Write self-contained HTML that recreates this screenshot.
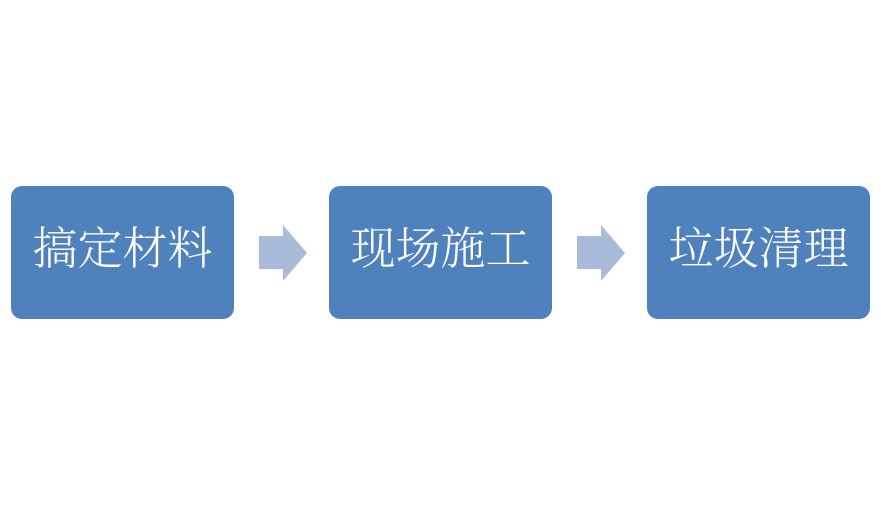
<!DOCTYPE html>
<html>
<head>
<meta charset="utf-8">
<style>
  html, body { margin:0; padding:0; background:#ffffff; }
  body { width:881px; height:505px; position:relative; overflow:hidden; }
  .box {
    position:absolute; top:186px; width:223px; height:133px;
    background:#4F81BD; border-radius:11px;
  }
  .lbl {
    position:absolute; left:0; width:100%; top:38px; height:50px; line-height:50px;
    text-align:center; color:#ffffff; font-size:45px;
    font-family:"Liberation Serif","Noto Serif CJK SC","Noto Sans CJK SC",serif;
    font-weight:300; letter-spacing:0px; white-space:nowrap;
  }
  svg { position:absolute; left:0; top:0; }
</style>
</head>
<body>
  <div class="box" style="left:11px;"><div class="lbl">搞定材料</div></div>
  <div class="box" style="left:329px;"><div class="lbl">现场施工</div></div>
  <div class="box" style="left:647px;"><div class="lbl">垃圾清理</div></div>
  <svg width="881" height="505" viewBox="0 0 881 505">
    <polygon points="259,236 283,236 283,225 307,253 283,281 283,269 259,269" fill="#A9BBD9"/>
    <polygon points="577,236 601,236 601,225 625,253 601,281 601,269 577,269" fill="#A9BBD9"/>
  </svg>
</body>
</html>
